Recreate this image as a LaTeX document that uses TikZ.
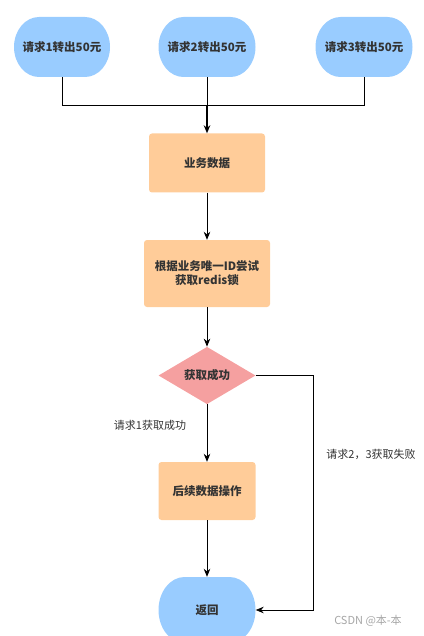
\documentclass[tikz,border=0pt]{standalone}
\usepackage{fontspec}
\setmainfont{Noto Sans CJK SC}
\usetikzlibrary{shapes.geometric,arrows.meta}
\definecolor{ovalblue}{HTML}{99CCFF}
\definecolor{boxorange}{HTML}{FFCC99}
\definecolor{diapink}{HTML}{F5A0A0}
\definecolor{txt}{HTML}{333333}
\newcommand\blobfill[5]{% center x, center y, half width, half height, corner x radius
  \fill[ovalblue] (#1-#3+#5,#2-#4) -- (#1+#3-#5,#2-#4)
    .. controls +(0.5523*#5,0) and +(0,-0.5523*#4) .. (#1+#3,#2)
    .. controls +(0,0.5523*#4) and +(0.5523*#5,0) .. (#1+#3-#5,#2+#4)
    -- (#1-#3+#5,#2+#4)
    .. controls +(-0.5523*#5,0) and +(0,0.5523*#4) .. (#1-#3,#2)
    .. controls +(0,-0.5523*#4) and +(-0.5523*#5,0) .. (#1-#3+#5,#2-#4) -- cycle;}
\begin{document}
\begin{tikzpicture}[x=1pt,y=-1pt,
  every node/.style={text=txt},
  oval/.style={minimum width=96pt, minimum height=60pt, inner sep=0pt, font=\fontsize{11.5}{14}\selectfont\bfseries},
  box/.style={fill=boxorange, rounded corners=3pt, inner sep=0pt, font=\fontsize{11.5}{14}\selectfont\bfseries, align=center},
  dec/.style={diamond, fill=diapink, minimum width=97pt, minimum height=57pt, inner sep=0pt, font=\fontsize{11.5}{14}\selectfont\bfseries},
  lbl/.style={font=\fontsize{11}{13}\selectfont, inner sep=0pt},
  conn/.style={draw=black, line width=0.8pt},
  arr/.style={conn, -{Stealth[length=8pt,width=6.5pt]}}
]
\useasboundingbox (0,0) rectangle (423,636);
\begin{scope}
\clip (0,0) rectangle (423,636);
\blobfill{62}{47}{48}{30}{25}
\blobfill{207}{47}{48.5}{30}{25}
\blobfill{364}{47}{48.5}{30}{25}
\blobfill{207}{610}{48.5}{33}{26}
\end{scope}
\node[oval] (r1) at (62,47) {请求1转出50元};
\node[oval] (r2) at (207,47) {请求2转出50元};
\node[oval] (r3) at (364,47) {请求3转出50元};
\node[box, minimum width=116pt, minimum height=59pt] (b1) at (207,163) {业务数据};
\node[box, minimum width=126pt, minimum height=67pt] (b2) at (207,273.5) {根据业务唯一ID尝试\\获取redis锁};
\node[dec] (d) at (207,375.5) {获取成功};
\node[box, minimum width=97pt, minimum height=58pt] (b3) at (207,491) {后续数据操作};
\node[oval, minimum width=97pt, minimum height=66pt] (ret) at (207,610) {返回};
\coordinate (j) at (207,105);
\coordinate (c1) at (313,375.5);
\coordinate (c2) at (313,610);
\draw[conn] (r1.south) |- (j);
\draw[conn] (r3.south) |- (j);
\draw[conn] (r2.south) -- (j);
\draw[arr, line width=1.6pt] (j) -- (b1.north);
\draw[arr] (b1.south) -- (b2.north);
\draw[arr] (b2.south) -- (d.north);
\draw[arr] (d.south) -- (b3.north);
\draw[arr] (b3.south) -- (ret.north);
\draw[arr] (d.east) -- (c1) -- (c2) -- (ret.east);
\node[lbl] (l1) at (150,425) {请求1获取成功};
\node[lbl] (l2) at (371,454) {请求2，3获取失败};
\node[lbl, text=gray!70] (wm) at (368,621) {CSDN @本-本};
\end{tikzpicture}
\end{document}
